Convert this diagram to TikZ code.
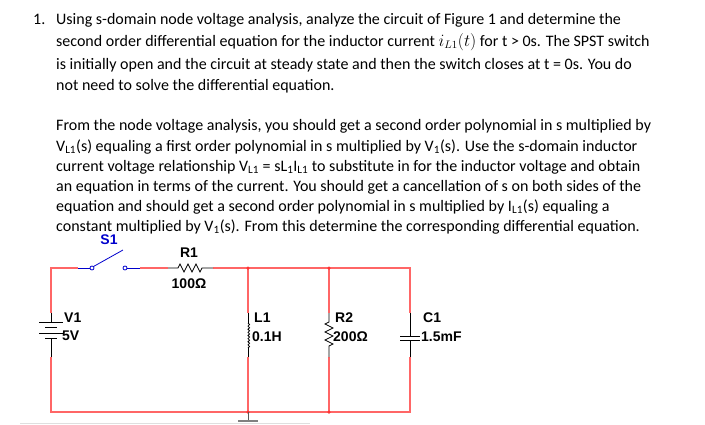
\documentclass[tikz,border=0pt]{standalone}
\usepackage{fontspec}
\setmainfont{Carlito}
\setsansfont{Liberation Sans}
\begin{document}
\begin{tikzpicture}[x=1pt,y=-1pt,
  txt/.style={anchor=base west,inner sep=0pt,font=\fontsize{16}{17}\selectfont},
  lab/.style={anchor=west,inner sep=0pt,font=\sffamily\bfseries\fontsize{14}{15}\selectfont},
  wire/.style={draw=red!60,line width=1.3},
  comp/.style={draw=black,line width=0.8},
  sw/.style={draw=blue!80!black,line width=0.8},
  dot/.style={circle,fill=red!80,inner sep=0pt,minimum size=3.5}]
\useasboundingbox (0,0) rectangle (705,424);
% text
\node[txt] (n1) at (33,24) {1.};
\node[txt] (l1) at (56,24) {Using s-domain node voltage analysis, analyze the circuit of Figure 1 and determine the};
\node[txt] (l2) at (56,46) {second order differential equation for the inductor current $i_{L1}(t)$ for t > 0s. The SPST switch};
\node[txt] (l3) at (56,69) {is initially open and the circuit at steady state and then the switch closes at t = 0s. You do};
\node[txt] (l4) at (56,90) {not need to solve the differential equation.};
\node[txt] (p1) at (56,130) {From the node voltage analysis, you should get a second order polynomial in s multiplied by};
\node[txt] (p2) at (56,151) {V\textsubscript{L1}(s) equaling a first order polynomial in s multiplied by V\textsubscript{1}(s). Use the s-domain inductor};
\node[txt] (p3) at (56,171) {current voltage relationship V\textsubscript{L1} = sL\textsubscript{1}I\textsubscript{L1} to substitute in for the inductor voltage and obtain};
\node[txt] (p4) at (56,191) {an equation in terms of the current. You should get a cancellation of s on both sides of the};
\node[txt] (p5) at (56,211) {equation and should get a second order polynomial in s multiplied by I\textsubscript{L1}(s) equaling a};
\node[txt] (p6) at (56,231) {constant multiplied by V\textsubscript{1}(s). From this determine the corresponding differential equation.};
% coordinates
\coordinate (TL) at (51,268); \coordinate (BL) at (51,412);
\coordinate (TR) at (410,268); \coordinate (BR) at (410,412);
\coordinate (swa) at (78,268); \coordinate (swb) at (140,268);
\coordinate (ra) at (168,268); \coordinate (rb) at (213,268);
\coordinate (TLa) at (248,268); \coordinate (TRb) at (329,268);
\coordinate (BLa) at (248,412); \coordinate (BRb) at (329,412);
% wires
\draw[wire] (swa) -- (TL) -- (51,313);
\draw[wire] (51,357) -- (BL) -- (BR) -- (410,357);
\draw[wire] (410,313) -- (TR) -- (rb);
\draw[wire] (swb) -- (ra);
\draw[wire] (TLa) -- (248,313); \draw[wire] (248,357) -- (BLa);
\draw[wire] (TRb) -- (329,313); \draw[wire] (329,357) -- (BRb);
% switch
\draw[sw] (swa) -- (90,268); \draw[sw] (127,268) -- (swb);
\draw[sw] (92,268) circle (2); \draw[sw] (125,268) circle (2);
\draw[sw] (93.5,266.5) -- (123,250);
\node[anchor=center,text=blue!80!black,font=\sffamily\bfseries\fontsize{14}{15}\selectfont] (S1) at (109,240) {S1};
% R1
\draw[comp] (ra) -- (178,268) -- (180,264) -- (184,272) -- (188,264) -- (192,272) -- (196,264) -- (200,272) -- (202,268) -- (rb);
\node[lab,anchor=center] (R1) at (189,253) {R1};
\node[lab,anchor=center] (R1v) at (189,284) {100Ω};
% battery
\draw[comp] (51,313) -- (51,322); \draw[comp] (51,338) -- (51,357);
\draw[comp] (39,322) -- (63,322); \draw[comp] (45,327) -- (57,327);
\draw[comp] (39,333) -- (63,333); \draw[comp] (45,338) -- (57,338);
\node[lab] (V1) at (64,318) {V1}; \node[lab] (V1v) at (62,336) {5V};
% L1
\draw[comp] (248,313) -- (248,323);
\draw[comp] (248,323) arc (-90:90:1.56) arc (-90:90:1.56) arc (-90:90:1.56) arc (-90:90:1.56) arc (-90:90:1.56) arc (-90:90:1.56) arc (-90:90:1.56) arc (-90:90:1.56);
\draw[comp] (248,348) -- (248,357);
\node[lab] (L1) at (254,318) {L1}; \node[lab] (L1v) at (252,337) {0.1H};
% R2
\draw[comp] (329,313) -- (329,322) -- (325,324) -- (333,328) -- (325,332) -- (333,336) -- (325,340) -- (333,344) -- (329,346) -- (329,357);
\node[lab] (R2) at (335,318) {R2}; \node[lab] (R2v) at (333,337) {200Ω};
% C1
\draw[comp] (410,313) -- (410,336); \draw[comp] (410,340) -- (410,357);
\draw[comp,line width=1] (400,336) -- (420,336); \draw[comp,line width=1] (400,340) -- (420,340);
\node[lab] (C1) at (423,318) {C1}; \node[lab] (C1v) at (421,337) {1.5mF};
% dots
\node[dot] at (TLa) {}; \node[dot] at (TRb) {}; \node[dot] at (BLa) {}; \node[dot] at (BRb) {};
% ground
\draw[draw=gray!70!black,line width=1] (248,412) -- (248,421);
\draw[draw=gray,line width=1.5] (238,421) -- (258,421);
\draw[draw=gray!25,line width=0.8] (20,423) -- (310,423);
\end{tikzpicture}
\end{document}
